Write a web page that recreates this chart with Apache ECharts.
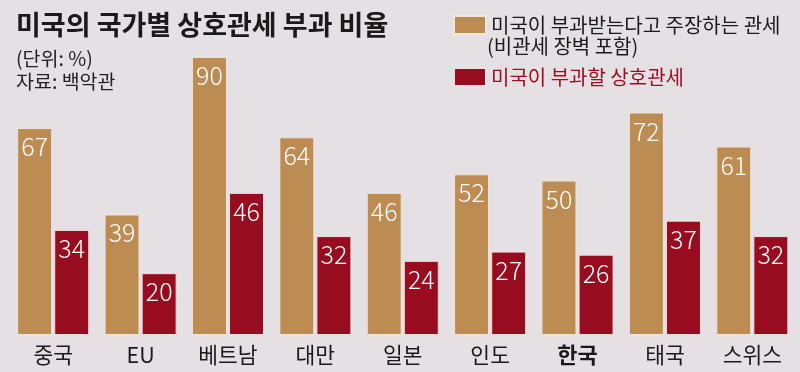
<!DOCTYPE html>
<html><head><meta charset="utf-8">
<script src="https://cdn.jsdelivr.net/npm/echarts@6/dist/echarts.min.js"></script>
<style>html,body{margin:0;padding:0;background:#e4e0e4;}#c{width:800px;height:372px;}</style>
</head><body><div id="c"></div>
<script>
const categories = ['중국','EU','베트남','대만','일본','인도','한국','태국','스위스'];
const claimedTariff = [67,39,90,64,46,52,50,72,61];
const reciprocalTariff = [34,20,46,32,24,27,26,37,32];
const seriesNames = ['미국이 부과받는다고 주장하는 관세','미국이 부과할 상호관세'];
const legendNote = '(비관세 장벽 포함)';
const FONT = '"Noto Sans CJK KR","Noto Sans",sans-serif';
const chart = echarts.init(document.getElementById('c'));
const labelCfg = {show:true,position:'insideTop',distance:6,color:'#ffffff',fontSize:25,fontFamily:FONT,fontWeight:300};
chart.setOption({
  backgroundColor:'#e4e0e4',
  animation:false,
  title:{
    text:'미국의 국가별 상호관세 부과 비율',
    subtext:'(단위: %)\n자료: 백악관',
    left:11,top:6,itemGap:9,
    textStyle:{fontFamily:FONT,fontSize:27,fontWeight:'bold',color:'#1a1a1a'},
    subtextStyle:{fontFamily:FONT,fontSize:19.5,color:'#222',lineHeight:23}
  },
  legend:{
    orient:'vertical',left:453,top:13.5,padding:0,itemWidth:32,itemHeight:18,itemGap:29,
    icon:'rect',
    textStyle:{fontFamily:FONT,fontSize:20,color:'#1a1a1a',lineHeight:23},
    data:[{name:seriesNames[0]},{name:seriesNames[1],textStyle:{color:'#9a0f22'}}]
  },
  graphic:[{type:'text',left:487,top:36.5,style:{text:legendNote,font:'20px '+FONT,fill:'#1a1a1a'}}],
  grid:{left:9.5,right:4,top:26,bottom:37},
  xAxis:{type:'category',data:categories,
    axisLine:{show:false},axisTick:{show:false},
    axisLabel:{interval:0,margin:9,fontFamily:FONT,fontSize:21.5,color:'#1a1a1a',
      formatter:v=>v==='한국'?'{b|'+v+'}':v,
      rich:{b:{fontWeight:'bold',fontSize:22,fontFamily:FONT,color:'#1a1a1a'}}}},
  yAxis:{type:'value',min:0,max:100,show:false,splitLine:{show:false}},
  series:[
    {name:seriesNames[0],type:'bar',data:claimedTariff,barWidth:35,barGap:'6%',
      itemStyle:{color:'#bc8c52',borderColor:'#efe6dc',borderWidth:1},label:labelCfg},
    {name:seriesNames[1],type:'bar',data:reciprocalTariff,barWidth:35,
      itemStyle:{color:'#970c1f',borderColor:'#efe0e0',borderWidth:1},label:labelCfg}
  ]
});
</script></body></html>
